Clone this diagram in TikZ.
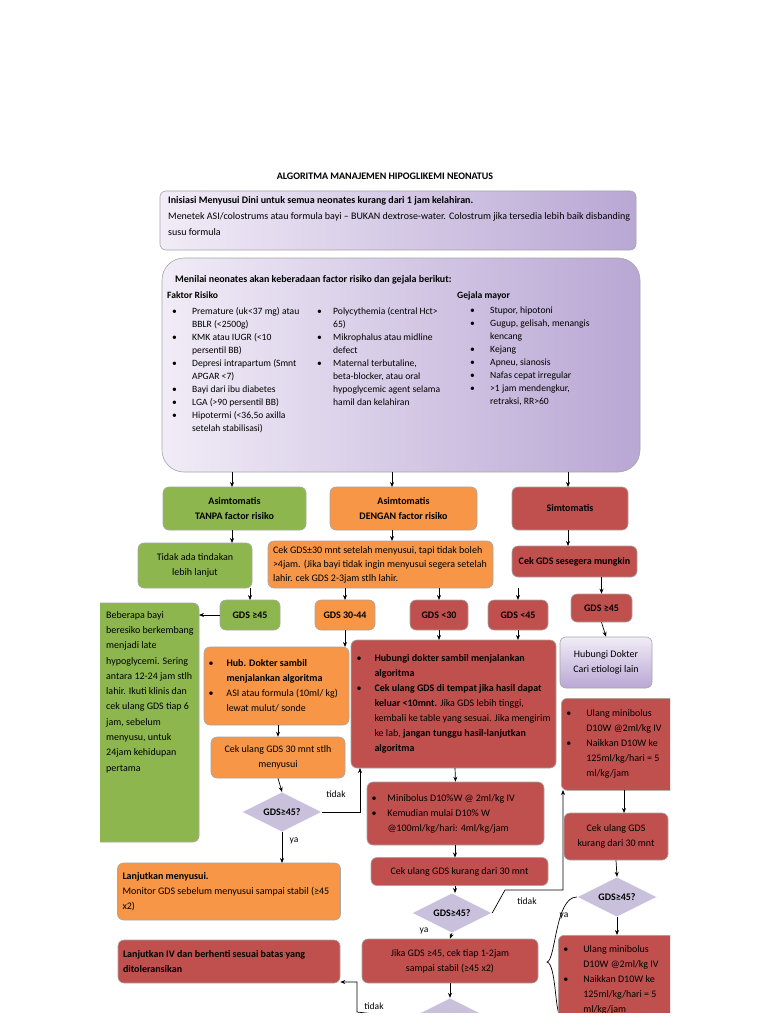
\documentclass[tikz,border=0pt]{standalone}
\usepackage{fontspec}
\setmainfont{Carlito}
\usetikzlibrary{shapes.geometric,arrows.meta}
\definecolor{pur}{HTML}{B9A7D4}
\definecolor{purL}{HTML}{F1ECF7}
\definecolor{grn}{HTML}{8DB74E}
\definecolor{org}{HTML}{F79646}
\definecolor{red}{HTML}{C0504D}
\definecolor{dia}{HTML}{C9C1DC}
\hyphenpenalty=10000 \exhyphenpenalty=10000
\newcommand\bitem[2]{\par\noindent\hangindent=#1\hangafter=1\makebox[#1][l]{\textbullet}#2\par}
\newcommand\bmp[2]{\begin{minipage}{#1}\raggedright #2\end{minipage}}
\tikzset{
 bx/.style={rounded corners=6pt, draw=black!35, line width=0.6pt, inner sep=4pt, align=center, font=\fontsize{10}{15}\selectfont},
 pbox/.style={bx, left color=purL, right color=pur},
 gbox/.style={bx, fill=grn},
 obox/.style={bx, fill=org},
 rbox/.style={bx, fill=red},
 txt/.style={anchor=north west, inner sep=0pt, font=\fontsize{9.6}{13}\selectfont},
 dm/.style={diamond, aspect=2.1, fill=dia, draw=white, inner sep=1pt, minimum width=80pt, minimum height=40pt, font=\fontsize{10}{11}\selectfont\bfseries},
 ar/.style={-{Stealth[length=5pt,width=4pt]}, line width=0.7pt},
 lab/.style={font=\fontsize{9.5}{10}\selectfont},
 hb/.style={font=\fontsize{10}{15}\selectfont\bfseries},
}
\begin{document}
\begin{tikzpicture}[x=1pt,y=-1pt]
\useasboundingbox (0,0) rectangle (768,1024);
\fill[white] (0,0) rectangle (768,1024);
\node[font=\fontsize{10}{11}\selectfont\bfseries] (title) at (385,176) {ALGORITMA MANAJEMEN HIPOGLIKEMI NEONATUS};
\begin{scope}
\clip (100,150) rectangle (670,1012);
% box1
\draw[pbox] (160,191) rectangle (636,250);
\node[txt, font=\fontsize{10}{16}\selectfont] (b1) at (168,196) {\bmp{462pt}{\textbf{Inisiasi Menyusui Dini untuk semua neonates kurang dari 1 jam kelahiran.}\\Menetek ASI/colostrums atau formula bayi -- BUKAN dextrose-water. Colostrum jika tersedia lebih baik disbanding susu formula}};
% box2
\draw[pbox, rounded corners=22pt] (162,258) rectangle (640,472);
\node[txt, font=\fontsize{10}{11}\selectfont\bfseries] (h2) at (175,275) {Menilai neonates akan keberadaan factor risiko dan gejala berikut:};
\node[txt, font=\fontsize{9.6}{11}\selectfont\bfseries] (fr) at (167,292) {Faktor Risiko};
\node[txt, font=\fontsize{9.6}{11}\selectfont\bfseries] (gm) at (457,292) {Gejala mayor};
\node[txt] (c1) at (172,307) {\bmp{132pt}{\bitem{20pt}{Premature (uk<37 mg) atau BBLR (<2500g)}\bitem{20pt}{KMK atau IUGR (<10 persentil BB)}\bitem{20pt}{Depresi intrapartum (Smnt APGAR <7)}\bitem{20pt}{Bayi dari ibu diabetes}\bitem{20pt}{LGA (>90 persentil BB)}\bitem{20pt}{Hipotermi (<36,5o axilla setelah stabilisasi)}}};
\node[txt] (c2) at (317,307) {\bmp{126pt}{\bitem{16pt}{Polycythemia (central Hct> 65)}\bitem{16pt}{Mikrophalus atau midline defect}\bitem{16pt}{Maternal terbutaline, beta-blocker, atau oral hypoglycemic agent selama hamil dan kelahiran}}};
\node[txt] (c3) at (470,307) {\bmp{132pt}{\bitem{20pt}{Stupor, hipotoni}\bitem{20pt}{Gugup, gelisah, menangis kencang}\bitem{20pt}{Kejang}\bitem{20pt}{Apneu, sianosis}\bitem{20pt}{Nafas cepat irregular}\bitem{20pt}{>1 jam mendengkur, retraksi, RR>60}}};
% row 3
\node[gbox, hb, minimum width=143pt, minimum height=43pt] (a1) at (234.5,508.5) {Asimtomatis\\TANPA factor risiko};
\node[obox, hb, minimum width=147pt, minimum height=43pt] (a2) at (403.5,508.5) {Asimtomatis\\DENGAN factor risiko};
\node[rbox, hb, minimum width=116pt, minimum height=43pt] (a3) at (570,508.5) {Simtomatis};
\foreach \x in {232,392,568}{\draw[ar] (\x,472) -- (\x,487);}
% row 4
\node[gbox, minimum width=114pt, minimum height=45pt] (t1) at (195,565.5) {Tidak ada tindakan\\lebih lanjut};
\node[obox, minimum width=225pt, minimum height=47pt, font=\fontsize{10}{14}\selectfont] (t2) at (380.5,564.5) {\bmp{215pt}{Cek GDS±30 mnt setelah menyusui, tapi tidak boleh >4jam. (Jika bayi tidak ingin menyusui segera setelah lahir. cek GDS 2-3jam stlh lahir.}};
\node[rbox, hb, minimum width=125pt, minimum height=31pt] (t3) at (574.5,561.5) {Cek GDS sesegera mungkin};
\draw[ar] (232,530) -- (232,543);
\draw[ar] (392,530) -- (392,541);
\draw[ar] (568,530) -- (568,546);
% GDS row
\node[gbox, hb, minimum width=60pt, minimum height=30pt] (g1) at (250,615) {GDS ≥45};
\node[obox, hb, minimum width=60pt, minimum height=30pt] (g2) at (345,615) {GDS 30-44};
\node[rbox, hb, minimum width=58pt, minimum height=30pt] (g3) at (439,615) {GDS <30};
\node[rbox, hb, minimum width=60pt, minimum height=30pt] (g4) at (518,615) {GDS <45};
\node[rbox, hb, minimum width=61pt, minimum height=28pt] (g5) at (601.5,608) {GDS ≥45};
\foreach \x in {250,345,439,518}{\draw[ar] (\x,588) -- (\x,600);}
\draw[ar] (601.5,577) -- (g5.north);
% left green
\draw[gbox] (90,603) rectangle (199,842);
\node[txt, font=\fontsize{10}{15.3}\selectfont] (lg) at (106,611) {\bmp{88pt}{Beberapa bayi beresiko berkembang menjadi late hypoglycemi. Sering antara 12-24 jam stlh lahir. Ikuti klinis dan cek ulang GDS tiap 6 jam, sebelum menyusu, untuk 24jam kehidupan pertama}};
\draw[ar] (g1.west) -- (199,615);
% orange hub
\node[obox, minimum width=145pt, minimum height=78pt, font=\fontsize{10}{15}\selectfont] (o1) at (276.5,686) {\bmp{136pt}{\bitem{18pt}{\textbf{Hub. Dokter sambil menjalankan algoritma}}\bitem{18pt}{ASI atau formula (10ml/ kg) lewat mulut/ sonde}}};
\draw[ar] (g2.south) -- (345,647);
\node[rbox, minimum width=205pt, minimum height=128pt, font=\fontsize{10}{15}\selectfont] (r1) at (453.5,704) {\bmp{194pt}{\bitem{18pt}{\textbf{Hubungi dokter sambil menjalankan algoritma}}\bitem{18pt}{\textbf{Cek ulang GDS di tempat jika hasil dapat keluar <10mnt.} Jika GDS lebih tinggi, kembali ke table yang sesuai. Jika mengirim ke lab, \textbf{jangan tunggu hasil-lanjutkan algoritma}}}};
\draw[ar] (g3.south) -- (439,640);
\draw[ar] (g4.south) -- (518,640);
\node[bx, top color=purL, bottom color=pur, minimum width=92pt, minimum height=51pt] (p3) at (606,662.5) {Hubungi Dokter\\Cari etiologi lain};
\draw[ar] (g5.south) -- (p3.north);
\node[rbox, minimum width=120pt, minimum height=92pt, anchor=north west, font=\fontsize{10}{15}\selectfont] (r2) at (561,698) {\bmp{110pt}{\bitem{20pt}{Ulang minibolus D10W @2ml/kg IV}\bitem{20pt}{Naikkan D10W ke 125ml/kg/hari = 5 ml/kg/jam}}};
% orange cek
\node[obox, minimum width=134pt, minimum height=41pt] (o2) at (278,757.5) {Cek ulang GDS 30 mnt stlh\\menyusui};
\draw[ar] (278,725) -- (o2.north);
\node[dm] (d1) at (282,812) {GDS≥45?};
\draw[ar] (o2.south) -- (282,792);
\draw[ar] (d1.east) -- (360,812) -- (360,768);
\node[lab] (l1) at (336,794) {tidak};
\node[obox, minimum width=223pt, minimum height=57pt, font=\fontsize{10}{15}\selectfont] (o3) at (229,891.5) {\bmp{213pt}{\textbf{Lanjutkan menyusui.}\\Monitor GDS sebelum menyusui sampai stabil (≥45 x2)}};
\draw[ar] (d1.south) -- (282,863);
\node[lab] (l2) at (294,841) {ya};
% center column
\node[rbox, minimum width=177pt, minimum height=63pt, font=\fontsize{10}{15}\selectfont] (r3) at (455.5,813.5) {\bmp{168pt}{\bitem{16pt}{Minibolus D10\%W @ 2ml/kg IV}\bitem{16pt}{Kemudian mulai D10\% W @100ml/kg/hari: 4ml/kg/jam}}};
\draw[ar] (455,768) -- (r3.north);
\node[rbox, minimum width=177pt, minimum height=28pt] (r4) at (459.5,871.5) {Cek ulang GDS kurang dari 30 mnt};
\draw[ar] (455,845) -- (455,857.5);
\node[dm] (d2) at (452,913) {GDS≥45?};
\draw[ar] (455,885.5) -- (455,893);
\draw[ar] (d2.east) -- (505,890) -- (563,890) -- (563,790);
\node[lab] (l3) at (527,901) {tidak};
\node[lab] (l4) at (424,931) {ya};
\node[rbox, minimum width=176pt, minimum height=44pt] (r5) at (450,961) {Jika GDS ≥45, cek tiap 1-2jam\\sampai stabil (≥45 x2)};
\draw[ar] (d2.south) -- (r5.north);
\node[rbox, minimum width=222pt, minimum height=43pt, font=\fontsize{10}{15}\selectfont\bfseries] (r6) at (229,961.5) {\bmp{212pt}{Lanjutkan IV dan berhenti sesuai batas yang ditoleransikan}};
\node[dm] (d3) at (450,1018) {Gejala?};
\draw[ar] (r5.south) -- (d3.north);
\draw[ar] (d3.west) -- (357,1012) -- (357,982) -- (r6.east |- 0,982);
\node[lab] (l5) at (374,1006) {tidak};
% right column
\node[rbox, minimum width=104pt, minimum height=47pt] (r7) at (616,836.5) {Cek ulang GDS\\kurang dari 30 mnt};
\draw[ar] (624,790) -- (624,813);
\node[dm] (d4) at (617,897) {GDS≥45?};
\draw[ar] (r7.south) -- (d4.north);
\node[lab] (l6) at (564,916) {ya};
\draw[line width=0.7pt] (d4.west) .. controls (555,897) and (556,960) .. (547,962) .. controls (556,964) and (555,1012) .. (560,1015);
\node[rbox, minimum width=120pt, minimum height=90pt, anchor=north west, font=\fontsize{10}{15}\selectfont] (r8) at (558,935) {\bmp{110pt}{\bitem{20pt}{Ulang minibolus D10W @2ml/kg IV}\bitem{20pt}{Naikkan D10W ke 125ml/kg/hari = 5 ml/kg/jam}}};
\draw[ar] (d4.south) -- (617,935);
\end{scope}
\end{tikzpicture}
\end{document}
